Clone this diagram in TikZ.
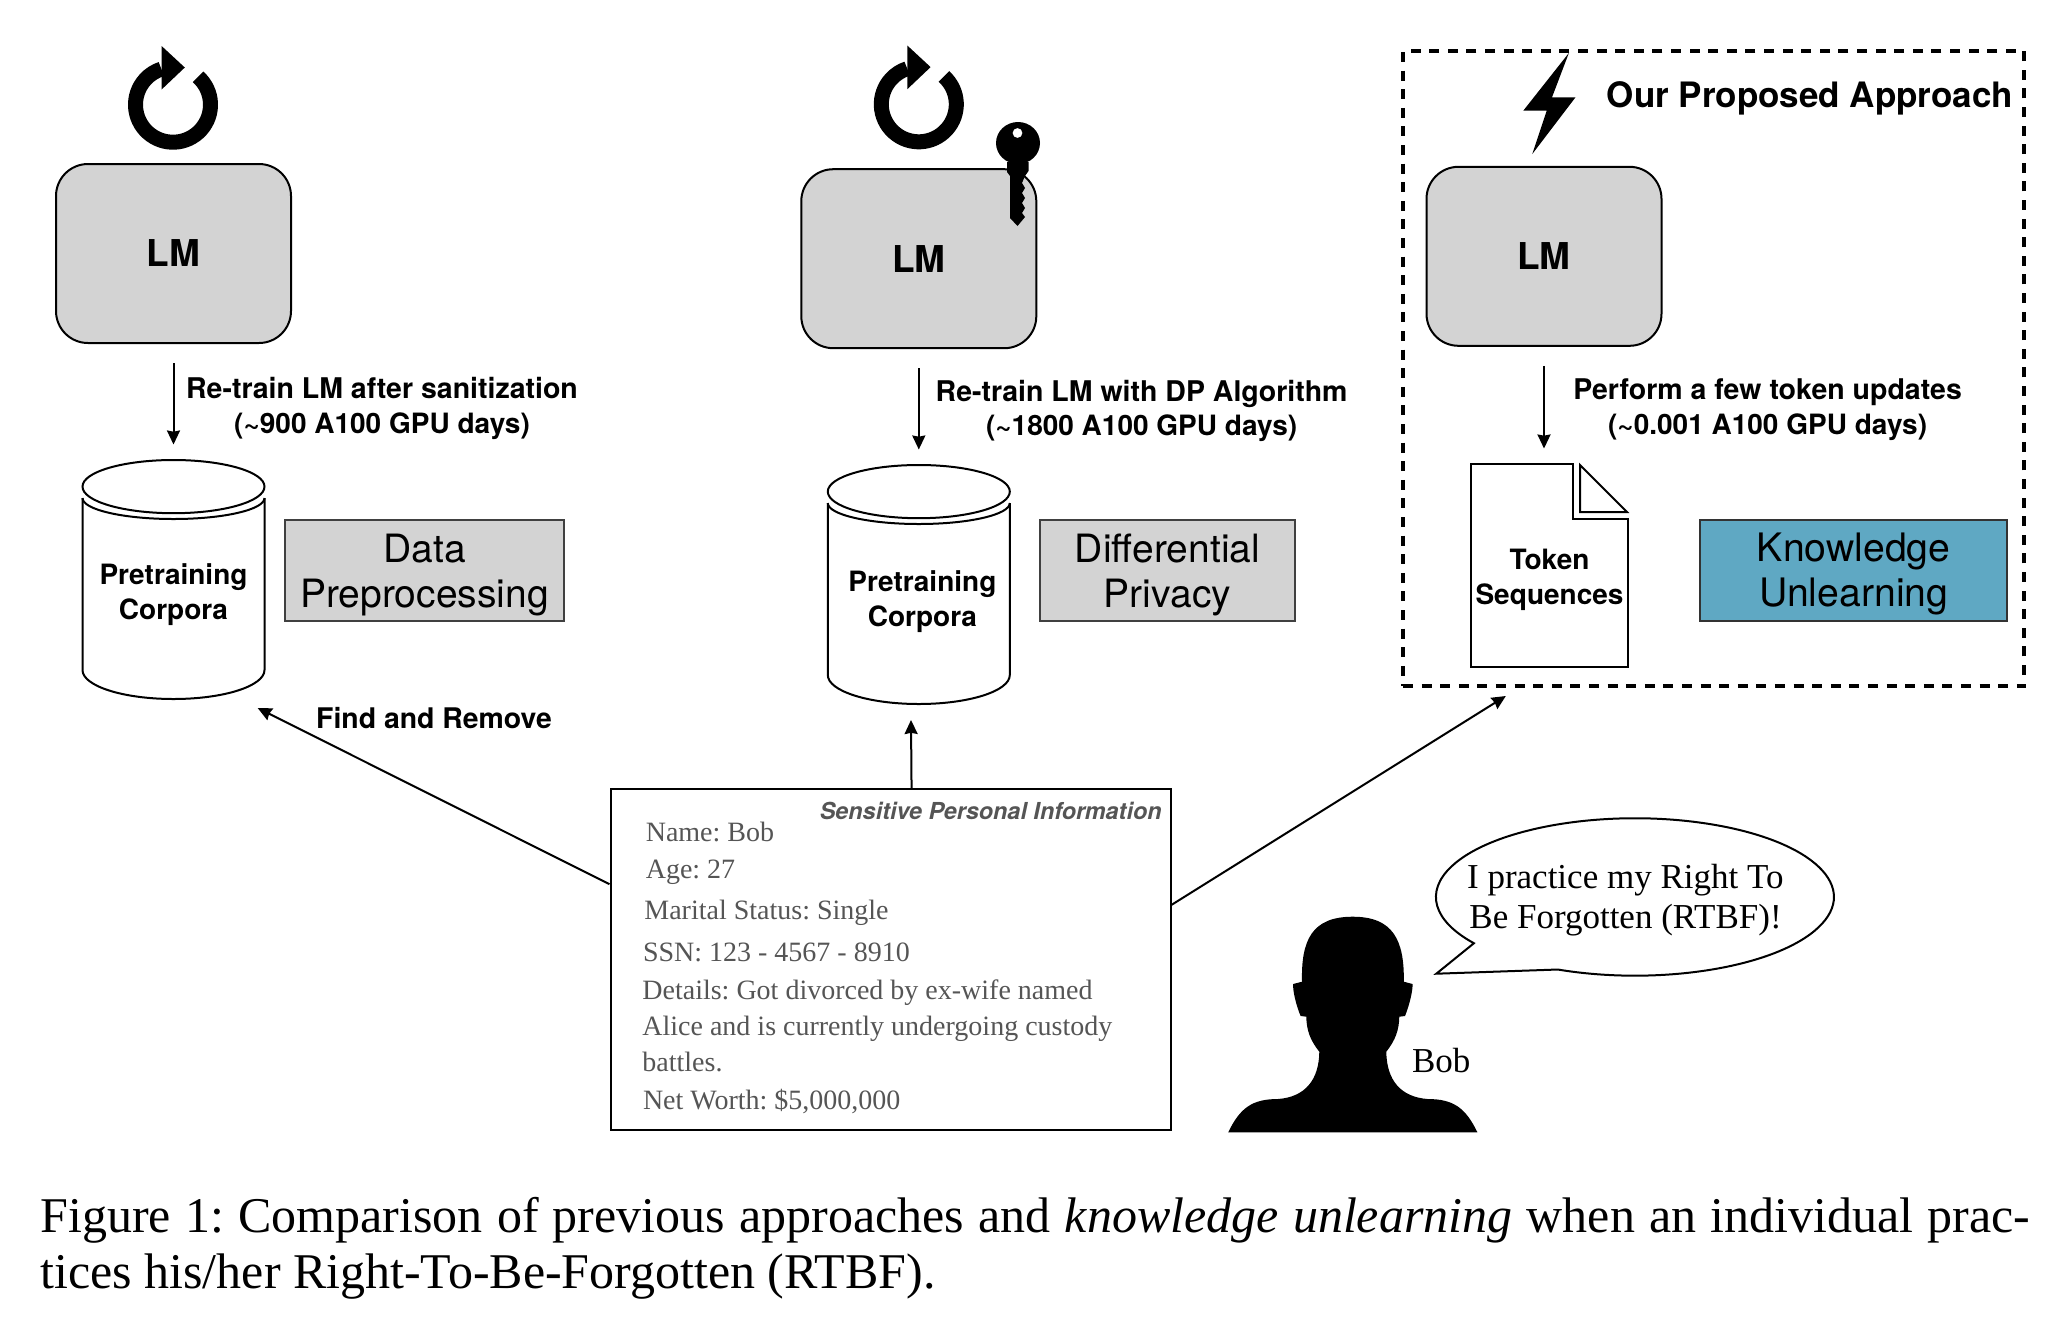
\documentclass[tikz,border=0pt]{standalone}
\usepackage{fontspec}
\setmainfont{Liberation Serif}
\setsansfont{TeX Gyre Heros}
\usetikzlibrary{arrows.meta,positioning}
\definecolor{lmgray}{HTML}{D3D3D3}
\definecolor{unlearn}{HTML}{5FA8C3}
\definecolor{infotext}{HTML}{555555}
\newcommand{\gpudays}[1]{{\fontsize{14}{17.25}\selectfont(\textasciitilde #1 A100 GPU days)}}
\tikzset{
	refresh/.pic = {
		\draw [line width=7.5pt] (-48:37.5) arc [start angle=-48, end angle=252, radius=37.5];
		\fill (-11.4,-58.7) -- (11.8,-37.2) -- (-11.4,-15.2) -- cycle;
	},
	corpus/.pic = {
		\draw [line width=1pt] (-91,38) -- (-91,210) arc [start angle=180, end angle=0, x radius=91, y radius=29] -- (91,38);
		\draw [line width=1pt] (-91,38) arc [start angle=180, end angle=0, x radius=91, y radius=21];
		\draw [line width=1pt, fill=white] (0,26.6) ellipse [x radius=91, y radius=26.6];
	}
}

\begin{document}
\frenchspacing
\begin{tikzpicture}
		[font=\sffamily, x=.5pt, y=-.5pt, inner sep=0pt,
		lm/.style		= {rectangle,draw,line width=1pt,fill=lmgray,rounded corners=16pt,minimum width=117.5pt,minimum height=89.5pt,font=\sffamily\bfseries\fontsize{18.5}{22}\selectfont},
		step label/.style	= {align=center,font=\sffamily\bfseries\fontsize{14.25}{17.25}\selectfont},
		corpus label/.style	= {align=center,font=\sffamily\bfseries\fontsize{14}{17.25}\selectfont},
		method/.style	= {rectangle,draw=black!75,line width=1pt,fill=lmgray,minimum height=50.5pt},
		method label/.style	= {align=center,yshift=-2.3pt,font=\sffamily\fontsize{19.5}{22.75}\selectfont},
		paths/.style	= {-{Stealth[length=7pt,width=6.5pt,inset=.6pt]}, line width=1pt, shorten >= 7.75pt, shorten <= 9.5pt},
		leak/.style		= {-{Stealth[length=7pt,width=6.5pt,inset=.6pt]}, line width=1pt},
		detail/.style	= {anchor=base west,text=infotext,font=\rmfamily\fontsize{14}{17}\selectfont},
		speech/.style	= {anchor=base west,font=\rmfamily\fontsize{17.5}{20}\selectfont},
		figure line/.style	= {anchor=base west,font=\rmfamily\fontsize{25}{28}\selectfont}]

		\useasboundingbox (0,0) rectangle (2072,1340);

		\node at (1713.6,368.5)	[rectangle,draw,line width=2.2pt,dash pattern=on 5pt off 4.3pt,minimum width=310.65pt,minimum height=317.5pt]	(approach)	{};

		\path (173,104.7) pic {refresh};
		\path (918.8,104.3) pic {refresh};
		\fill (1568.9,52.9) -- (1523.4,110.5) -- (1546.8,110.5) -- (1532.3,154) -- (1575.5,97.3) -- (1552,97.3) -- cycle;

		\node at (173.5,253.5)	[lm]	(lm1)	{LM};
		\node at (918.8,258.7)	[lm]	(lm2)	{LM};
		\node at (1544,256.3)	[lm]	(lm3)	{LM};

		\fill [even odd rule] (1018,143) ellipse [x radius=22, y radius=21] (1017.5,133) ellipse [x radius=5, y radius=5];
		\fill (1007,162) -- (1028.5,162) -- (1028.5,171) -- (1025,176) -- (1022,183) -- (1025,188) -- (1022,193) -- (1025,198) -- (1022,203) -- (1025,208) -- (1022,213) -- (1025,217) -- (1017.5,226) -- (1010,218) -- (1010,176) -- (1007,172) -- cycle;

		\coordinate (cor1) at (173.5,460);
		\coordinate (cor2) at (918.8,465);
		\coordinate (doc) at (1544,464);
		\path (cor1) pic {corpus};
		\path (cor2) pic {corpus};

		\draw [line width=1pt] (1471,464) -- (1573.3,464) -- (1573.3,518.6) -- (1628,518.6) -- (1628,667) -- (1471,667) -- cycle;
		\draw [line width=1pt] (1580,465) -- (1627,512) -- (1580,512) -- cycle;

		\node at (173.5,594.4)	[corpus label]	(cor1t)	{Pretraining\\Corpora};
		\node at (922.4,601.4)	[corpus label]	(cor2t)	{Pretraining\\Corpora};
		\node at (1549.5,579.7)	[corpus label]	(doct)	{Token\\Sequences};

		\node at (382,408.4)	[step label]	(s1)	{Re-train LM after sanitization\\\gpudays{900}};
		\node at (1141.6,411)	[step label]	(s2)	{Re-train LM with DP Algorithm\\\gpudays{1800}};
		\node at (1767.6,409.7)	[step label]	(s3)	{Perform a few token updates\\\gpudays{0.001}};

		\node at (424.5,570.5)	[method,minimum width=139.5pt]	(dp1)	{};
		\node at (dp1)			[method label]	(dp1t)	{Data\\Preprocessing};
		\node at (1167.5,570.5)	[method,minimum width=127.5pt]	(dp2)	{};
		\node at (dp2)			[method label]	(dp2t)	{Differential\\Privacy};
		\node at (1853.7,570.3)	[method,draw=black!80,fill=unlearn,minimum width=153.7pt]	(ku)	{};
		\node at (ku)			[method label,yshift=.3pt,font=\sffamily\fontsize{19.6}{22.5}\selectfont]	(kut)	{Knowledge\\Unlearning};

		\node at (1606.4,107)	[anchor=base west,font=\sffamily\bfseries\fontsize{17.5}{20}\selectfont]	(ours)	{Our Proposed Approach};
		\node at (434,728)		[anchor=base,font=\sffamily\bfseries\fontsize{14.2}{17}\selectfont]	(find)	{Find and Remove};

		\node at (890.5,959.5)	[rectangle,draw,line width=1pt,minimum width=280pt,minimum height=170.5pt]	(info)	{};
		\node at (1162,819)		[anchor=base east,text=infotext,font=\sffamily\bfseries\itshape\fontsize{11.7}{14}\selectfont]	(sens)	{Sensitive Personal Information};
		\node at (645.4,841.7)	[detail]	(i1)	{Name: Bob};
		\node at (645.4,878)	[detail]	(i2)	{Age: 27};
		\node at (644,919)		[detail]	(i3)	{Marital Status: Single};
		\node at (642.6,961.7)	[detail]	(i4)	{SSN: 123 - 4567 - 8910};
		\node at (642,999)		[detail]	(i5)	{Details: Got divorced by ex-wife named};
		\node at (642,1035.7)	[detail]	(i6)	{Alice and is currently undergoing custody};
		\node at (642,1071)		[detail]	(i7)	{battles.};
		\node at (642.6,1109.3)	[detail]	(i8)	{Net Worth: \$5,000,000};

		\coordinate (tip1) at (257.7,708);
		\coordinate (tip2) at (911,720);
		\coordinate (tip3) at (1505.8,696);

		\draw [paths] (lm1.south) -- (cor1);
		\draw [paths] (lm2.south) -- (cor2);
		\draw [paths] (lm3.south) -- (doc);
		\draw [leak] (info.165.5) -- (tip1);
		\draw [leak] (info.83.1) -- (tip2);
		\draw [leak] (info.11.15) -- (tip3);

		\draw [line width=1pt] (1557.8,969.5) arc [start angle=112.8, end angle=-216, x radius=199, y radius=78.7] -- (1436.3,973.7) -- cycle;
		\node at (1466.7,888)	[speech]	(say1)	{I practice my Right To};
		\node at (1469,928.3)	[speech]	(say2)	{Be Forgotten (RTBF)!};

		\fill (1228.2,1132.3) .. controls (1240,1108) and (1252,1099) .. (1278,1099)
			.. controls (1305,1097) and (1319,1080) .. (1319.3,1051.7)
			.. controls (1310,1040) and (1306.5,1030) .. (1306.3,1016.7)
			-- (1300.6,1016) .. controls (1296,1005) and (1292.5,990) .. (1293.2,984) -- (1302,981.7)
			.. controls (1301,940) and (1312,916.7) .. (1352.7,916.7)
			.. controls (1393,916.7) and (1404.5,940) .. (1403.8,981.7)
			-- (1412.5,984) .. controls (1413,990) and (1409.5,1005) .. (1405,1016)
			-- (1399.3,1016.7) .. controls (1399,1030) and (1395.5,1040) .. (1386.3,1051.7)
			.. controls (1386.6,1080) and (1400.6,1097) .. (1427.6,1099)
			.. controls (1453.6,1099) and (1465.6,1108) .. (1477.4,1132.3) -- cycle;
		\node at (1411.6,1072.7)	[speech]	(bob)	{Bob};

		\node at (40,1232.7)	[figure line]	(cap1)	{\hbox to 995pt{Figure 1: Comparison of previous approaches and \textit{knowledge unlearning} when an individual prac-}};
		\node at (40,1288)		[figure line]	(cap2)	{tices his/her Right-To-Be-Forgotten (RTBF).};
\end{tikzpicture}
\end{document}
